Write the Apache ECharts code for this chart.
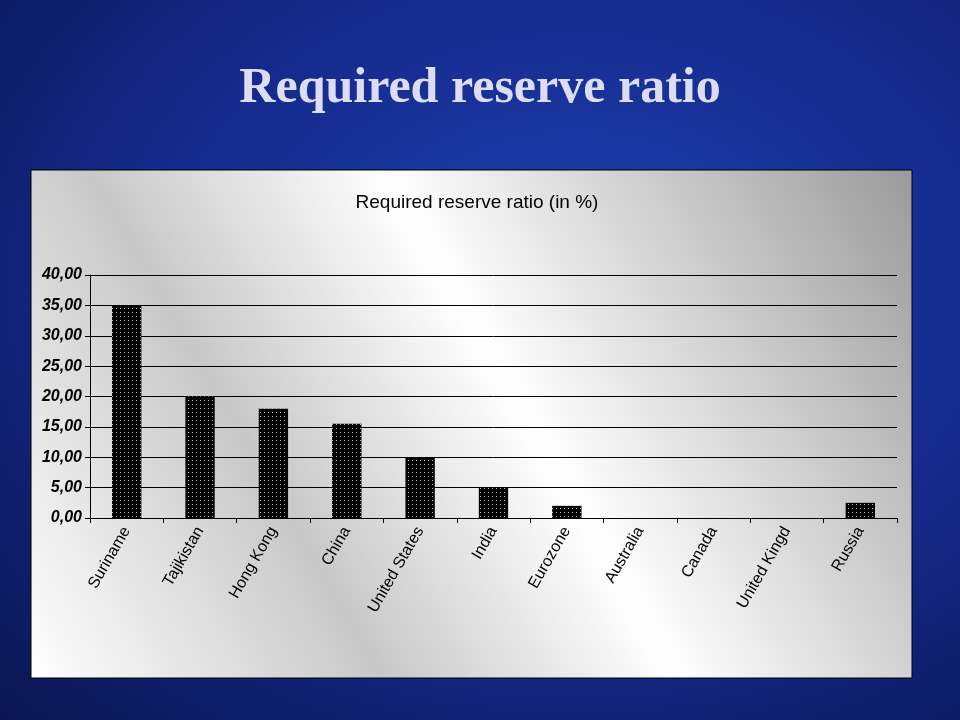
<!DOCTYPE html>
<html><head><meta charset="utf-8">
<script src="https://cdn.jsdelivr.net/npm/echarts@6/dist/echarts.min.js"></script>
<style>
html,body{margin:0;padding:0;width:960px;height:720px;overflow:hidden;
background:radial-gradient(ellipse at 60% 40%, #1f3fb0 0%, #14298a 55%, #0a1550 100%);}
#c{width:960px;height:720px;}
</style></head><body>
<div id="c"></div>
<script>
const categories = ['Suriname','Tajikistan','Hong Kong','China','United States','India','Eurozone','Australia','Canada','United Kingdom','Russia'];
const values = [35, 20, 18, 15.5, 10, 5, 2, 0, 0, 0, 2.5];
const yTicks = [0,5,10,15,20,25,30,35,40];

const chart = echarts.init(document.getElementById('c'));
chart.setOption({
  animation:false,
  graphic:[
    {type:'rect', z:-10, shape:{x:31,y:170,width:881,height:508},
     style:{fill:new echarts.graphic.LinearGradient(0,1,1,0,[
       {offset:0,color:'#ffffff'},{offset:0.3,color:'#c8c8c8'},{offset:0.55,color:'#ffffff'},{offset:1,color:'#9a9a9a'}]),
       stroke:'#000',lineWidth:1}},
    {type:'text', left:'center', top:64,
     style:{text:'Required reserve ratio', font:'bold 50px "Liberation Serif", serif',
       fill:'#dcdcf2', shadowColor:'rgba(0,0,0,0.8)', shadowOffsetX:3, shadowOffsetY:3, shadowBlur:2}}
  ],
  title:{text:'Required reserve ratio (in %)', left:472, top:188, textAlign:'center',
    textStyle:{fontFamily:'"Liberation Sans Narrow", "Liberation Sans", Arial', fontWeight:'normal', fontSize:19, color:'#000'}},
  grid:{left:90, right:63, top:275, bottom:202, containLabel:false},
  xAxis:{type:'category', data:categories,
    axisLine:{lineStyle:{color:'#000'}}, axisTick:{show:true, lineStyle:{color:'#000'}},
    axisLabel:{interval:0, rotate:60, color:'#000', fontSize:16, fontFamily:'"Liberation Sans", Arial', margin:10, width:100, overflow:'truncate', ellipsis:''}},
  yAxis:{type:'value', min:0, max:40, interval:5,
    axisLine:{show:true, lineStyle:{color:'#000'}}, axisTick:{show:true, lineStyle:{color:'#000'}},
    splitLine:{lineStyle:{color:'#000', width:1}},
    axisLabel:{color:'#000', fontSize:16, fontWeight:'bold', fontStyle:'italic', fontFamily:'"Liberation Sans Narrow","Liberation Sans", Arial',
      formatter:v=>v.toFixed(2).replace('.',',')}},
  series:[{type:'bar', data:values, barWidth:'40%',
    itemStyle:{color:'#000',
      decal:{symbol:'circle', symbolSize:1, color:'#fff', dashArrayX:[1,3], dashArrayY:[1,3], rotation:0}}}]
});
</script></body></html>
